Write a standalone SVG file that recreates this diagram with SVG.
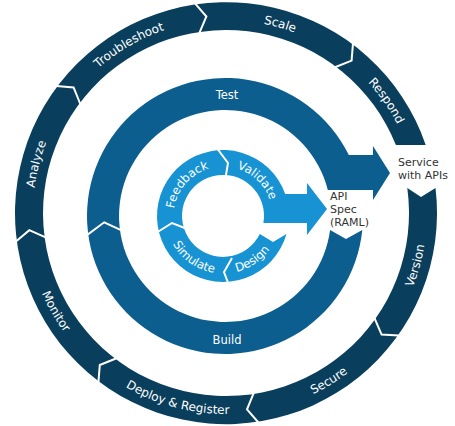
<svg xmlns="http://www.w3.org/2000/svg" width="455" height="426" viewBox="0 0 455 426">
<style>
.lbl{font-family:"DejaVu Sans",Verdana,sans-serif;fill:#ffffff;}
.o{font-size:12px;}
.m{font-size:11.5px;}
.i{font-size:11.8px;}
.side{font-family:"DejaVu Sans",Verdana,sans-serif;font-size:11px;fill:#333333;}
.sep{fill:none;stroke:#ffffff;stroke-width:2;stroke-linejoin:miter;}
</style>
<defs>
<path id="pTroubleshoot" d="M 44.6 147 A 193 193 0 0 1 259.5 22.9"/>
<path id="pScale" d="M 147.5 36.7 A 193 193 0 0 1 386 105.1"/>
<path id="pRespond" d="M 275.9 26.6 A 193 193 0 0 1 418.3 229.8"/>
<path id="pAnalyze" d="M 51.8 296.1 A 193 193 0 0 1 113.9 55.9"/>
<path id="pVersion" d="M 339.8 378.6 A 201 201 0 0 0 408.9 129.6"/>
<path id="pSecure" d="M 196.3 411.8 A 201 201 0 0 0 416.6 276.8"/>
<path id="pDeploy" d="M 62.4 329.7 A 201 201 0 0 0 312.5 394.4"/>
<path id="pMonitor" d="M 28.1 178.1 A 201 201 0 0 0 157.3 401.9"/>
<path id="pFeedback" d="M 179.7 240 A 49.5 49.5 0 0 1 240.7 169.8"/>
<path id="pValidate" d="M 201.3 171.5 A 49.5 49.5 0 0 1 268.2 236.1"/>
<path id="pSimulate" d="M 167.5 201.1 A 57.5 57.5 0 0 0 256 263.1"/>
<path id="pDesign" d="M 189.2 262.5 A 57.5 57.5 0 0 0 278.8 202.1"/>
</defs>
<rect width="455" height="426" fill="#ffffff"/>

<g id="outer-ring">
<path d="M 435.5 188 A 211 211 0 1 1 425.7 145 L 395.9 145 A 183 183 0 1 0 407.3 188 L 421 197 Z" fill="#093e5c"/>
</g>
<g id="middle-ring">
<path d="M 362.3 230 A 138 138 0 1 1 348.8 155 L 373 155 L 373 146 L 390 173 L 373 200 L 373 190 L 327.8 190 A 106 106 0 1 0 330.1 230 L 346 239 Z" fill="#0c5e8f"/>
</g>
<g id="inner-ring">
<path d="M 286.5 234 A 66 66 0 1 1 285.2 194 L 307 194 L 307 183 L 327 209 L 307 235 L 307 223 L 263.4 223 A 41 41 0 1 0 259.8 234 L 273 242 Z" fill="#1793d3"/>
</g>

<g id="connectors">
<polyline class="sep" points="195,3.3 206.4,16.5 199.4,32.9"/>
<polyline class="sep" points="353,43.3 351.6,60.6 335,67.3"/>
<polyline class="sep" points="399,335.5 381.6,334.6 374.5,318.2"/>
<polyline class="sep" points="258.4,422.5 247,409.4 253.8,392.9"/>
<polyline class="sep" points="98.4,382.3 99.8,365 116.5,358.3"/>
<polyline class="sep" points="15.9,241.4 29.3,230.2 45.6,237.4"/>
<polyline class="sep" points="56.3,86 73.6,87.4 80.3,104"/>
<polyline class="sep" points="87.3,234.9 104.2,222.3 121,230.2"/>
<polyline class="sep" points="217.5,149 228,163 225.5,178"/>
<polyline class="sep" points="156,233 172,223 186,228.5"/>
<polyline class="sep" points="232,258 224,272 230,288"/>
</g>

<g id="troubleshoot"><text class="lbl o"><textPath href="#pTroubleshoot" startOffset="50%" text-anchor="middle">Troubleshoot</textPath></text></g>
<g id="scale"><text class="lbl o"><textPath href="#pScale" startOffset="50%" text-anchor="middle">Scale</textPath></text></g>
<g id="respond"><text class="lbl o"><textPath href="#pRespond" startOffset="50%" text-anchor="middle">Respond</textPath></text></g>
<g id="version"><text class="lbl o"><textPath href="#pVersion" startOffset="50%" text-anchor="middle">Version</textPath></text></g>
<g id="secure"><text class="lbl o"><textPath href="#pSecure" startOffset="50%" text-anchor="middle">Secure</textPath></text></g>
<g id="deploy-register"><text class="lbl o"><textPath href="#pDeploy" startOffset="50%" text-anchor="middle">Deploy &amp; Register</textPath></text></g>
<g id="monitor"><text class="lbl o"><textPath href="#pMonitor" startOffset="50%" text-anchor="middle">Monitor</textPath></text></g>
<g id="analyze"><text class="lbl o"><textPath href="#pAnalyze" startOffset="50%" text-anchor="middle">Analyze</textPath></text></g>

<g id="test"><text class="lbl m" x="227" y="99" text-anchor="middle">Test</text></g>
<g id="build"><text class="lbl m" x="227" y="344" text-anchor="middle">Build</text></g>

<g id="feedback"><text class="lbl i"><textPath href="#pFeedback" startOffset="50%" text-anchor="middle">Feedback</textPath></text></g>
<g id="validate"><text class="lbl i"><textPath href="#pValidate" startOffset="50%" text-anchor="middle">Validate</textPath></text></g>
<g id="simulate"><text class="lbl i"><textPath href="#pSimulate" startOffset="50%" text-anchor="middle">Simulate</textPath></text></g>
<g id="design"><text class="lbl i"><textPath href="#pDesign" startOffset="50%" text-anchor="middle">Design</textPath></text></g>

<g id="api-spec"><text class="side" x="330"><tspan x="330" y="200">API</tspan><tspan x="330" y="213">Spec</tspan><tspan x="330" y="226">(RAML)</tspan></text></g>
<g id="service-with-apis"><text class="side" x="398"><tspan x="398" y="166">Service</tspan><tspan x="398" y="179">with APIs</tspan></text></g>
</svg>
